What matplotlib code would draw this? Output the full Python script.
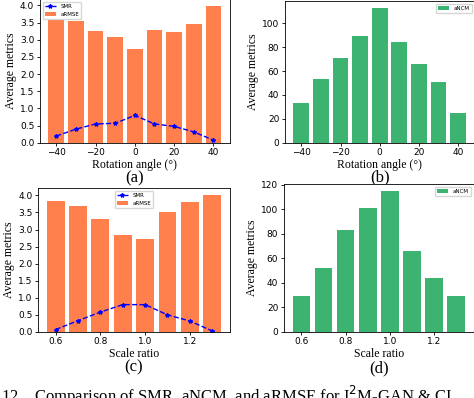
import matplotlib.pyplot as plt
import numpy as np

rot_angles = [-40, -30, -20, -10, 0, 10, 20, 30, 40]
rot_armse = [3.58, 3.55, 3.25, 3.07, 2.73, 3.27, 3.21, 3.45, 3.99]
rot_smr = [0.20, 0.40, 0.55, 0.57, 0.80, 0.55, 0.48, 0.32, 0.08]
rot_ancm = [33, 53, 71, 89, 113, 84, 66, 51, 25]

scale_ratios = [0.6, 0.7, 0.8, 0.9, 1.0, 1.1, 1.2, 1.3]
scale_armse = [3.85, 3.70, 3.30, 2.85, 2.72, 3.50, 3.82, 4.02]
scale_smr = [0.07, 0.33, 0.58, 0.80, 0.80, 0.50, 0.32, 0.03]
scale_ancm = [29, 52, 83, 101, 115, 66, 44, 29]

orange = '#ff7f4d'
green = '#3cb371'
serif = ['Liberation Serif', 'DejaVu Serif']

fig = plt.figure(figsize=(4.74, 3.98), dpi=100)
ax_a = fig.add_axes([0.084, 0.641, 0.401, 0.362])
ax_b = fig.add_axes([0.601, 0.641, 0.40, 0.357])
ax_c = fig.add_axes([0.080, 0.166, 0.405, 0.362])
ax_d = fig.add_axes([0.599, 0.166, 0.40, 0.372])

def style(ax, xlabel, tag):
    ax.tick_params(labelsize=6.5, length=2.5, width=0.6, pad=1.5)
    for s in ax.spines.values():
        s.set_linewidth(0.6)
    ax.set_xlabel(xlabel, family=serif, fontsize=8.5, labelpad=1)
    ax.set_ylabel('Average metrics', family=serif, fontsize=8.5, labelpad=2)
    ax.text(0.5, -0.19, tag, transform=ax.transAxes, ha='center', va='top',
            family=serif, fontsize=12)

# (a) rotation, SMR + aRMSE
ax_a.bar(rot_angles, rot_armse, width=8, color=orange, label='aRMSE')
ax_a.plot(rot_angles, rot_smr, 'b*--', markersize=3, linewidth=1, label='SMR')
ax_a.legend(loc='upper left', fontsize=4, handlelength=2)
ax_a.set_xticks([-40, -20, 0, 20, 40])
ax_a.set_yticks(np.arange(0, 4.01, 0.5))
style(ax_a, 'Rotation angle (°)', '(a)')

# (b) rotation, aNCM
ax_b.bar(rot_angles, rot_ancm, width=8, color=green, label='aNCM')
ax_b.legend(loc='upper right', fontsize=4, handlelength=2)
ax_b.set_xticks([-40, -20, 0, 20, 40])
style(ax_b, 'Rotation angle (°)', '(b)')

# (c) scale, SMR + aRMSE
ax_c.bar(scale_ratios, scale_armse, width=0.08, color=orange, label='aRMSE')
ax_c.plot(scale_ratios, scale_smr, 'b*--', markersize=3, linewidth=1, label='SMR')
ax_c.legend(loc='upper center', fontsize=4, handlelength=2)
ax_c.set_xticks([0.6, 0.8, 1.0, 1.2])
ax_c.set_yticks(np.arange(0, 4.01, 0.5))
style(ax_c, 'Scale ratio', '(c)')

# (d) scale, aNCM
ax_d.bar(scale_ratios, scale_ancm, width=0.08, color=green, label='aNCM')
ax_d.legend(loc='upper right', fontsize=4, handlelength=2)
ax_d.set_xticks([0.6, 0.8, 1.0, 1.2])
style(ax_d, 'Scale ratio', '(d)')

fig.text(0.002, 0.035, '12.   Comparison of SMR, aNCM, and aRMSE for I$^2$M-GAN & CI',
         family=serif, fontsize=12, va='top', ha='left')

fig.savefig('out.png', dpi=100)
